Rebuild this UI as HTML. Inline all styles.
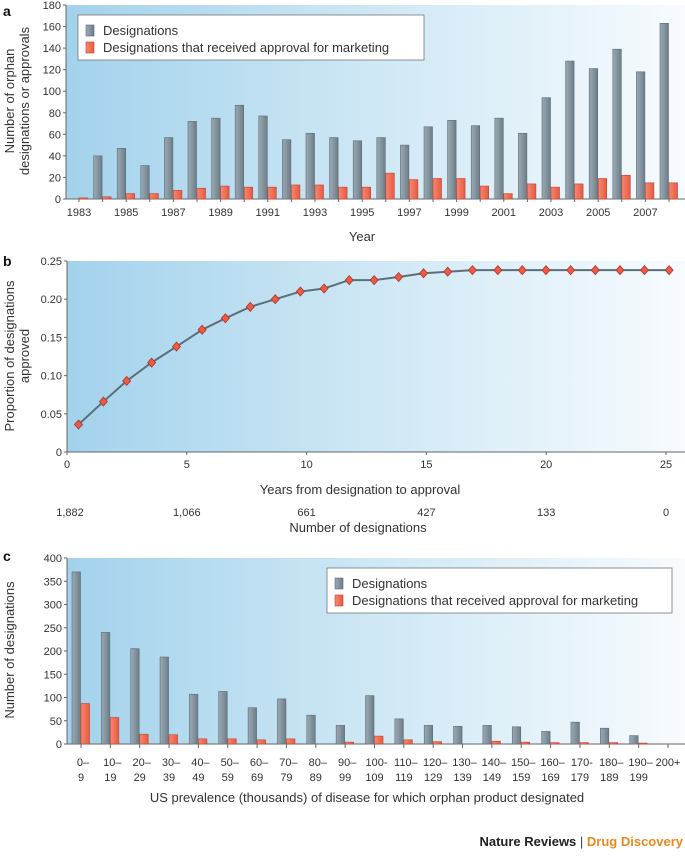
<!DOCTYPE html>
<html><head><meta charset="utf-8"><style>
body{margin:0;background:#fff;}
svg{display:block;font-family:"Liberation Sans",sans-serif;}
</style></head><body>
<svg id="fig" width="685" height="856" viewBox="0 0 685 856">
<defs>
<linearGradient id="bg" x1="0" x2="1" y1="0" y2="0">
<stop offset="0" stop-color="#a3d2ec"/><stop offset="0.5" stop-color="#cfe8f5"/><stop offset="1" stop-color="#f7fbfe"/>
</linearGradient>
<linearGradient id="gb" x1="0" x2="1"><stop offset="0" stop-color="#9aa9b1"/><stop offset="0.5" stop-color="#8595a0"/><stop offset="1" stop-color="#6d7d87"/></linearGradient>
<linearGradient id="rb" x1="0" x2="1"><stop offset="0" stop-color="#f7876f"/><stop offset="1" stop-color="#e85a43"/></linearGradient>
</defs>
<g id="pa"></g>
<g id="pb"></g>
<g id="pc"></g>
<text x="683" y="846" text-anchor="end" font-size="13" font-weight="bold"><tspan fill="#222">Nature Reviews</tspan><tspan fill="#444" font-weight="normal"> | </tspan><tspan fill="#e8891d">Drug Discovery</tspan></text>
</svg>
<script>
// Panel a data
const yearsA = [1983,1984,1985,1986,1987,1988,1989,1990,1991,1992,1993,1994,1995,1996,1997,1998,1999,2000,2001,2002,2003,2004,2005,2006,2007,2008];
const desigA = [0,40,47,31,57,72,75,87,77,55,61,57,54,57,50,67,73,68,75,61,94,128,121,139,118,163];
const approvA = [1,2,5,5,8,10,12,11,11,13,13,11,11,24,18,19,19,12,5,14,11,14,19,22,15,15];
const yTicksA = [0,20,40,60,80,100,120,140,160,180];
const xLabelsA = [1983,1985,1987,1989,1991,1993,1995,1997,1999,2001,2003,2005,2007];
// Panel b data
const yearsB = [0.48,1.52,2.49,3.53,4.57,5.64,6.61,7.65,8.69,9.74,10.73,11.78,12.82,13.84,14.88,15.89,16.92,17.98,19.0,19.99,21.02,22.05,23.08,24.1,25.13];
const propB = [0.036,0.066,0.093,0.117,0.138,0.160,0.175,0.190,0.200,0.210,0.214,0.225,0.225,0.229,0.234,0.236,0.238,0.238,0.238,0.238,0.238,0.238,0.238,0.238,0.238];
const yTicksB = [0,0.05,0.10,0.15,0.20,0.25];
const yTickLabelsB = ["0","0.05","0.10","0.15","0.20","0.25"];
const xTicksB = [0,5,10,15,20,25];
const numDesigB = ["1,882","1,066","661","427","133","0"];
// Panel c data
const catsC = [["0–","9"],["10–","19"],["20–","29"],["30–","39"],["40–","49"],["50–","59"],["60–","69"],["70–","79"],["80–","89"],["90–","99"],["100-","109"],["110–","119"],["120–","129"],["130–","139"],["140–","149"],["150–","159"],["160–","169"],["170-","179"],["180–","189"],["190–","199"],["200+",""]];
const desigC = [370,240,205,187,107,113,78,97,62,40,104,54,40,38,40,37,27,47,34,18,0];
const approvC = [87,57,21,20,11,11,9,11,0,4,17,9,5,0,6,4,3,3,3,2,0];
const yTicksC = [0,50,100,150,200,250,300,350,400];

const NS="http://www.w3.org/2000/svg";
function mk(parent,tag,attrs,text){const e=document.createElementNS(NS,tag);for(const k in attrs)e.setAttribute(k,attrs[k]);if(text!==undefined)e.textContent=text;parent.appendChild(e);return e;}
const TC="#333";

function frame(g,x0,x1,yTop,yBot,letter,ly){
  const bgr=mk(g,'rect',{x:x0,y:yTop,width:x1-x0,height:yBot-yTop,fill:'url(#bg)'});
  
  
  const ax=mk(g,'line',{x1:x0,y1:yTop,x2:x0,y2:yBot,stroke:'#666','stroke-width':1});
  
  
  const bx=mk(g,'line',{x1:x0,y1:yBot,x2:x1,y2:yBot,stroke:'#666','stroke-width':1});
  
  
  const l=mk(g,'text',{x:3,y:ly,'font-size':14,'font-weight':'bold',fill:'#111'},letter);
  
  
}
function legend(g,x,y,w,h){
  const r=mk(g,'rect',{x:x,y:y,width:w,height:h,fill:'#fff',stroke:'#777','stroke-width':0.8});
  
  
  const s1=mk(g,'rect',{x:x+8,y:y+10,width:8,height:11,fill:'url(#gb)',stroke:'#5d6c75','stroke-width':0.6});
  
  
  const t1=mk(g,'text',{x:x+25,y:y+20,'font-size':13,fill:TC},'Designations');
  
  
  const s2=mk(g,'rect',{x:x+8,y:y+27,width:8,height:11,fill:'url(#rb)',stroke:'#c0432f','stroke-width':0.6});
  
  
  const t2=mk(g,'text',{x:x+25,y:y+37,'font-size':13,fill:TC},'Designations that received approval for marketing');
  
  
}
function bars(g,cx,vals,yFn,y0,col,name){
  vals.forEach((v,i)=>{
    if(v<=0)return;
    const c=cx(i), y=yFn(v);
    const x = col==='g'? c-9 : c;
    const r=mk(g,'rect',{x:x,y:y,width:8.5,height:y0-y,fill:col==='g'?'url(#gb)':'url(#rb)',stroke:col==='g'?'#5d6c75':'#c0432f','stroke-width':0.6});
    
    
  });
}

// ---------- Panel a
(function(){
  const g=document.getElementById('pa');
  const x0=66,x1=685,yT=5,yB=199;
  const sx=y=>79+(y-1983)*23.6;
  const sy=v=>yB-(v/180)*(yB-yT);
  frame(g,x0,x1,yT,yB,'a',16);
  yTicksA.forEach(t=>{
    const tk=mk(g,'line',{x1:x0-3,y1:sy(t),x2:x0,y2:sy(t),stroke:'#666'});
    
    
    const tl=mk(g,'text',{x:x0-5,y:sy(t)+4,'font-size':11,'text-anchor':'end',fill:TC},t);
    
    
  });
  yearsA.forEach(y=>{
    const tk=mk(g,'line',{x1:sx(y),y1:yB,x2:sx(y),y2:yB+3,stroke:'#666'});
    
    
  });
  xLabelsA.forEach(y=>{
    const tl=mk(g,'text',{x:sx(y),y:yB+17,'font-size':11,'text-anchor':'middle',fill:TC},y);
    
    
  });
  bars(g,i=>sx(yearsA[i]),desigA,sy,yB,'g','bar-designations');
  bars(g,i=>sx(yearsA[i]),approvA,sy,yB,'r','bar-approvals');
  legend(g,78,15,346,45);
  const xt=mk(g,'text',{x:362,y:241,'font-size':13,'text-anchor':'middle',fill:TC},'Year');
  
  
  const yt=mk(g,'text',{transform:'translate(14,101) rotate(-90)','font-size':13,'text-anchor':'middle',fill:TC});
  
  
  mk(yt,'tspan',{x:0,y:0},'Number of orphan');
  mk(yt,'tspan',{x:0,y:15},'designations or approvals');
})();

// ---------- Panel b
(function(){
  const g=document.getElementById('pb');
  const x0=67,x1=685,yT=261,yB=452;
  const sx=v=>x0+v*23.96;
  const sy=v=>yB-(v/0.25)*(yB-yT);
  frame(g,x0,x1,yT,yB,'b',266);
  yTicksB.forEach((t,i)=>{
    const tk=mk(g,'line',{x1:x0-3,y1:sy(t),x2:x0,y2:sy(t),stroke:'#666'});
    
    
    const tl=mk(g,'text',{x:x0-5,y:sy(t)+4,'font-size':11,'text-anchor':'end',fill:TC},yTickLabelsB[i]);
    
    
  });
  xTicksB.forEach((t,i)=>{
    const tk=mk(g,'line',{x1:sx(t),y1:yB,x2:sx(t),y2:yB+3,stroke:'#666'});
    
    
    const tl=mk(g,'text',{x:sx(t),y:yB+16,'font-size':11,'text-anchor':'middle',fill:TC},t);
    
    
    const nl=mk(g,'text',{x:sx(t)+(i===0?3:0),y:516,'font-size':11,'text-anchor':'middle',fill:TC},numDesigB[i]);
    
    
  });
  const pts=yearsB.map((x,i)=>sx(x)+','+sy(propB[i])).join(' ');
  const ln=mk(g,'polyline',{points:pts,fill:'none',stroke:'#5b6f79','stroke-width':2});
  
  
  yearsB.forEach((x,i)=>{
    const cx=sx(x),cy=sy(propB[i]);
    const d=mk(g,'polygon',{points:`${cx},${cy-4.5} ${cx+4},${cy} ${cx},${cy+4.5} ${cx-4},${cy}`,fill:'#ee5a45',stroke:'#a8352a','stroke-width':0.8});
    
    
  });
  const xt=mk(g,'text',{x:360,y:494,'font-size':13,'text-anchor':'middle',fill:TC},'Years from designation to approval');
  
  
  const xt2=mk(g,'text',{x:358,y:532,'font-size':13,'text-anchor':'middle',fill:TC},'Number of designations');
  
  
  const yt=mk(g,'text',{transform:'translate(14,356) rotate(-90)','font-size':13,'text-anchor':'middle',fill:TC});
  
  
  mk(yt,'tspan',{x:0,y:0},'Proportion of designations');
  mk(yt,'tspan',{x:0,y:15},'approved');
})();

// ---------- Panel c
(function(){
  const g=document.getElementById('pc');
  const x0=67,x1=685,yT=558,yB=744;
  const sx=i=>81+i*29.35;
  const sy=v=>yB-(v/400)*(yB-yT);
  frame(g,x0,x1,yT,yB,'c',561);
  yTicksC.forEach(t=>{
    const tk=mk(g,'line',{x1:x0-3,y1:sy(t),x2:x0,y2:sy(t),stroke:'#666'});
    
    
    const tl=mk(g,'text',{x:x0-5,y:sy(t)+4,'font-size':11,'text-anchor':'end',fill:TC},t);
    
    
  });
  catsC.forEach((c,i)=>{
    const tk=mk(g,'line',{x1:sx(i),y1:yB,x2:sx(i),y2:yB+4,stroke:'#666'});
    
    
    const tl=mk(g,'text',{x:sx(i),y:766,'font-size':11,'text-anchor':'middle',fill:TC});
    
    
    mk(tl,'tspan',{x:sx(i)+(c[1]?2:0),y:766},c[0]);
    if(c[1])mk(tl,'tspan',{x:sx(i),y:781},c[1]);
  });
  bars(g,sx,desigC,sy,yB,'g','bar-designations');
  bars(g,sx,approvC,sy,yB,'r','bar-approvals');
  legend(g,327,568,345,45);
  const xt=mk(g,'text',{x:367,y:802,'font-size':13,'text-anchor':'middle',fill:TC},'US prevalence (thousands) of disease for which orphan product designated');
  
  
  const yt=mk(g,'text',{transform:'translate(14,650) rotate(-90)','font-size':13,'text-anchor':'middle',fill:TC},'Number of designations');
  
  
})();
</script>
</body></html>
